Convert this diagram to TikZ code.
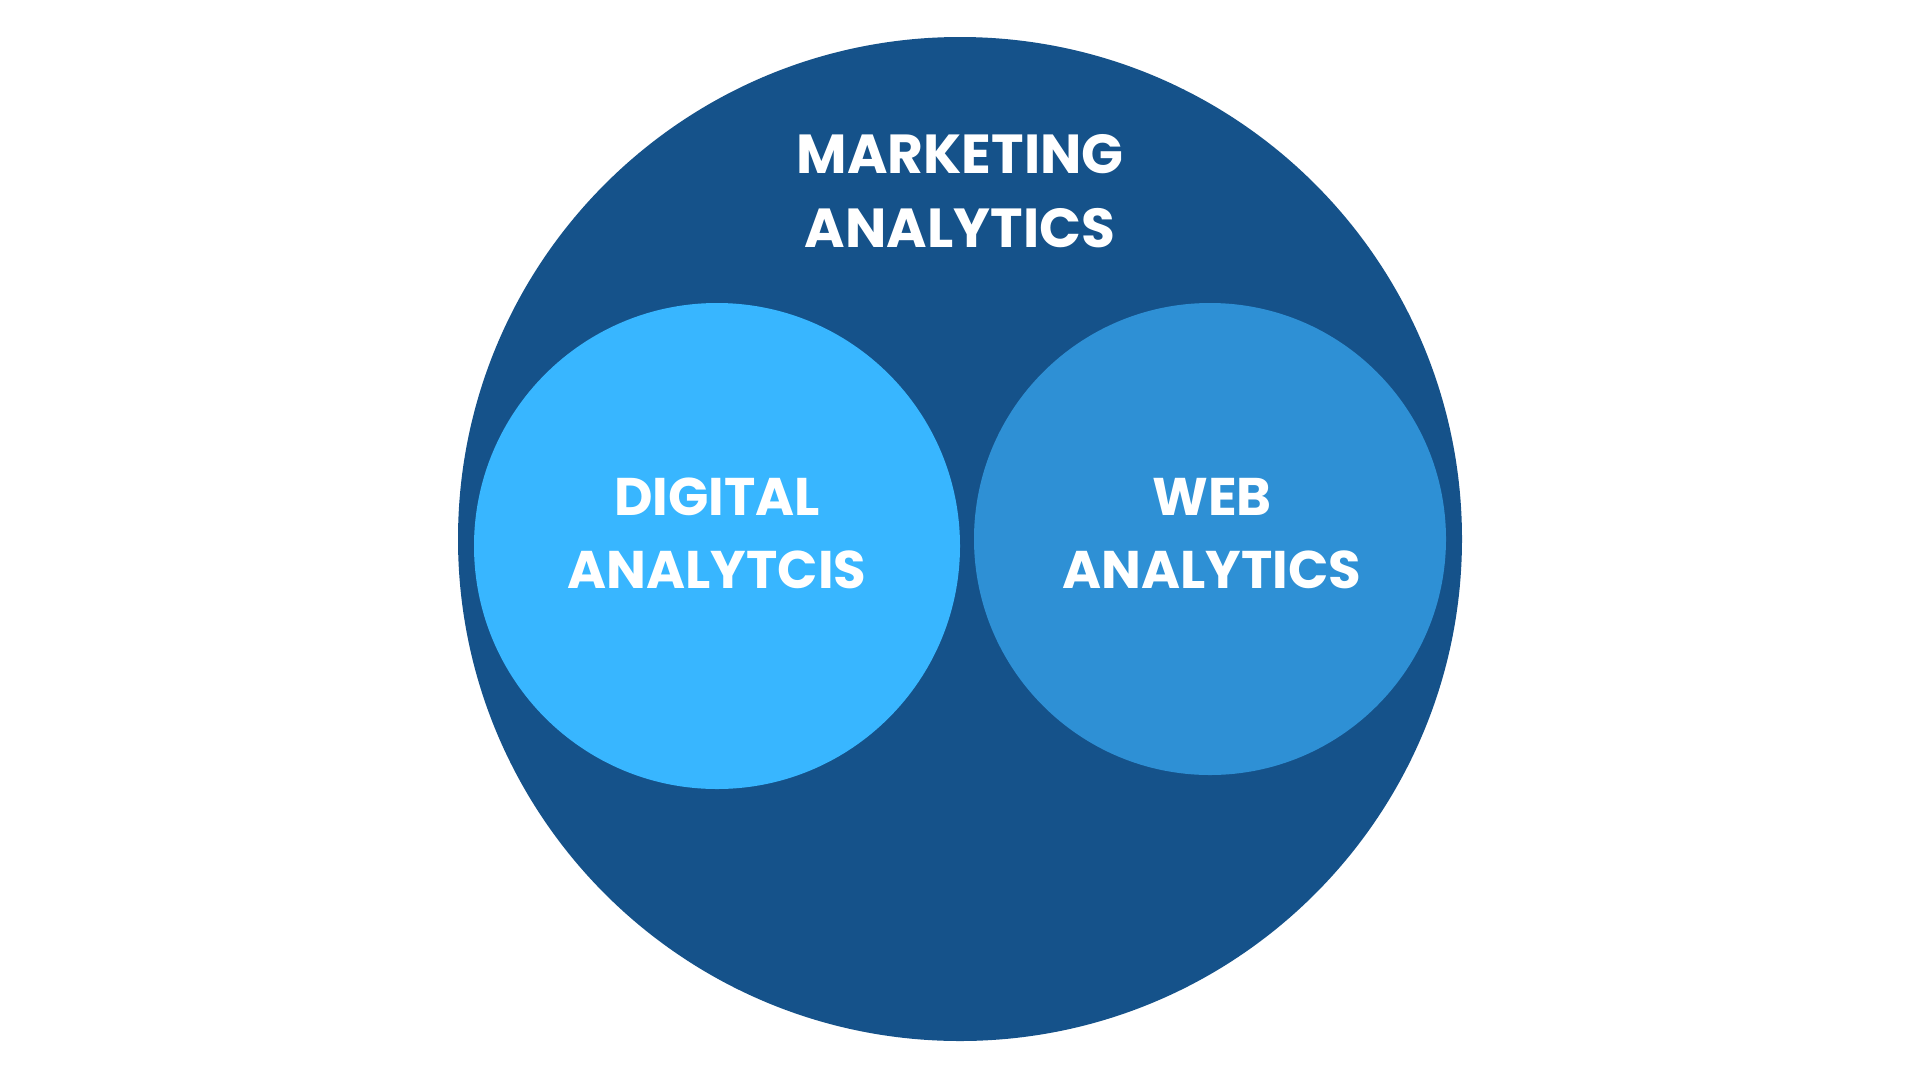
\documentclass[tikz,border=0pt]{standalone}
\usepackage{fontspec}
\setmainfont{Poppins}[BoldFont={* Bold}]
\definecolor{darkblue}{RGB}{21,82,138}
\definecolor{lightblue}{RGB}{56,182,255}
\definecolor{midblue}{RGB}{46,144,213}
\tikzset{
  lbl/.style={text=white, font=\fontsize{55}{60}\selectfont\bfseries, anchor=base, inner sep=0pt},
  lblsmall/.style={lbl, font=\fontsize{53}{58}\selectfont\bfseries},
}
\begin{document}
\begin{tikzpicture}[x=1pt,y=-1pt]
\useasboundingbox (0,0) rectangle (1920,1080);
\fill[darkblue] (960,539) circle[radius=502];
\fill[lightblue] (717,546) circle[radius=243];
\fill[midblue] (1210,539) circle[radius=236];
\node[lbl] (mkt1) at (960,173) {MARKETING};
\node[lbl] (mkt2) at (960,247) {ANALYTICS};
\node[lblsmall] (dig1) at (717,515) {DIGITAL};
\node[lblsmall] (dig2) at (717,588) {ANALYTCIS};
\node[lblsmall] (web1) at (1212,515) {WEB};
\node[lblsmall] (web2) at (1212,588) {ANALYTICS};
\end{tikzpicture}
\end{document}
